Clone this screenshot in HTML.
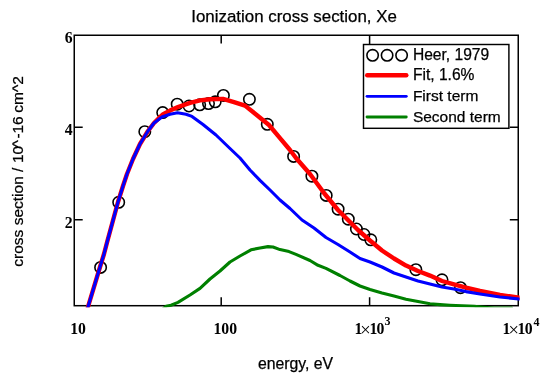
<!DOCTYPE html>
<html><head><meta charset="utf-8"><title>Ionization cross section, Xe</title>
<style>
html,body{margin:0;padding:0;background:#fff;}
svg{display:block}
.a{font-family:"Liberation Sans",Arial,sans-serif;fill:#000;stroke:#000;stroke-width:0.25px}
.t{font-family:"Liberation Serif","Times New Roman",serif;font-weight:bold;fill:#000}
</style></head><body>
<svg width="550" height="380" viewBox="0 0 550 380">
<rect width="550" height="380" fill="#fff"/>
<defs><clipPath id="cp"><rect x="74" y="35" width="445.6" height="272.25"/></clipPath></defs>
<text class="a" x="294.1" y="21.6" font-size="16.9" text-anchor="middle">Ionization cross section, Xe</text>
<text class="a" font-size="15.5" transform="translate(22.5,266.7) rotate(-90)">cross section / <tspan dx="0.3">10</tspan><tspan dx="-1.65">^</tspan><tspan dx="1.55">-</tspan><tspan dx="-0.1">16</tspan><tspan dx="-0.8"> cm^2</tspan></text>
<text class="a" x="295.5" y="369.4" font-size="15.8" text-anchor="middle">energy, eV</text>
<g stroke="#000" stroke-width="1.5" fill="none" stroke-linecap="butt">
<rect x="74.25" y="35.25" width="444.00" height="270.45"/>
<path d="M221.2 305.7V297.2 M369.6 305.7V297.2 M221.2 35.25V43.6 M369.6 35.25V44"/>
<path d="M74.25 127.3H82.7 M74.25 219.85H82.7 M518.25 127.3H509.8 M518.25 219.85H509.8"/>
</g>
<g clip-path="url(#cp)" fill="none" stroke-linejoin="round" stroke-linecap="round">
<g stroke="#000" stroke-width="1.6"><circle cx="100.6" cy="267.4" r="5.7"/><circle cx="118.7" cy="202.3" r="5.7"/><circle cx="144.8" cy="131.7" r="5.7"/><circle cx="162.7" cy="112.6" r="5.7"/><circle cx="177.2" cy="104.2" r="5.7"/><circle cx="189.0" cy="106.0" r="5.7"/><circle cx="199.7" cy="104.8" r="5.7"/><circle cx="208.5" cy="103.6" r="5.7"/><circle cx="215.2" cy="101.8" r="5.7"/><circle cx="223.4" cy="95.4" r="5.7"/><circle cx="249.4" cy="99.3" r="5.7"/><circle cx="267.3" cy="124.3" r="5.7"/><circle cx="293.6" cy="156.4" r="5.7"/><circle cx="311.9" cy="176.2" r="5.7"/><circle cx="326.2" cy="195.4" r="5.7"/><circle cx="338.1" cy="209.2" r="5.7"/><circle cx="348.3" cy="219.2" r="5.7"/><circle cx="356.4" cy="229.0" r="5.7"/><circle cx="364.0" cy="234.5" r="5.7"/><circle cx="370.8" cy="239.8" r="5.7"/><circle cx="415.9" cy="269.7" r="5.7"/><circle cx="442.0" cy="279.8" r="5.7"/><circle cx="460.5" cy="287.7" r="5.7"/></g>
<polyline stroke="#ff0000" stroke-width="4.4" points="86.5,312.0 88.4,305.5 100.0,267.0 104.0,254.0 107.4,241.0 118.0,202.0 123.0,186.0 127.0,174.0 133.0,159.0 140.0,144.0 148.0,131.0 154.0,123.0 160.0,117.2 163.2,114.2 170.0,110.6 178.0,107.0 190.0,102.8 200.0,100.4 210.0,99.3 223.0,98.9 234.0,102.1 245.0,105.6 257.0,115.2 269.0,125.0 280.0,138.2 290.0,150.0 296.0,158.0 310.0,174.0 324.0,193.0 338.0,210.0 346.0,218.0 358.0,230.0 370.0,240.5 382.0,250.5 394.0,258.5 406.0,265.6 418.0,271.0 430.0,275.6 442.0,281.0 454.0,284.4 466.0,287.6 480.0,291.0 500.0,295.0 519.0,297.6"/>
<polyline stroke="#0000ff" stroke-width="3.1" points="86.5,312.0 88.4,305.5 100.0,267.0 104.0,254.0 107.4,241.0 118.0,202.0 123.0,186.0 127.0,174.0 133.0,159.0 140.0,144.0 148.0,131.0 154.0,123.0 162.0,117.0 170.0,114.2 177.5,112.7 186.0,114.2 192.0,116.4 203.0,124.5 216.0,135.0 230.0,148.5 240.0,158.0 250.0,170.0 260.0,180.3 270.0,190.0 280.0,200.0 290.0,208.5 302.0,220.0 314.0,228.0 326.0,237.5 338.0,244.5 350.0,252.0 360.0,258.5 370.0,262.0 382.0,267.0 394.0,273.0 406.0,277.0 418.0,281.0 430.0,284.0 442.0,287.0 454.0,289.0 466.0,291.6 480.0,294.0 500.0,297.0 519.0,299.0"/>
<polyline stroke="#008000" stroke-width="3.1" points="163.0,309.0 166.2,306.3 171.0,305.2 178.0,302.4 190.0,295.0 200.0,288.4 210.0,279.0 220.0,271.0 230.0,262.0 240.0,256.0 251.0,249.8 260.0,248.0 268.0,246.6 273.0,247.0 280.0,249.6 289.0,251.6 296.0,254.4 310.0,260.5 318.0,265.3 326.0,268.4 340.0,275.5 350.0,281.0 360.0,286.0 370.0,289.5 382.0,293.0 394.0,296.0 406.0,299.2 418.0,301.5 430.0,303.8 440.0,304.6 450.0,305.2 462.0,305.7 474.0,306.3 484.0,307.2 494.0,308.0 511.5,308.1"/>
</g>
<g class="t" font-size="15.75">
<text x="72.5" y="42.6" text-anchor="end">6</text>
<text x="72.5" y="135" text-anchor="end">4</text>
<text x="72.5" y="227.5" text-anchor="end">2</text>
<text x="70.2" y="334.4">10</text>
<text x="213.4" y="334.4">100</text>
<text y="334.4"><tspan x="354.4">1</tspan><tspan x="360.25" y="336.3" font-weight="normal" font-size="18.5">×</tspan><tspan x="369.4" y="334.4">1</tspan><tspan x="376.5">0</tspan><tspan x="384.6" y="325.4" font-size="12">3</tspan></text>
<text y="334.4"><tspan x="502.6">1</tspan><tspan x="508.45" y="336.3" font-weight="normal" font-size="18.5">×</tspan><tspan x="517.6" y="334.4">1</tspan><tspan x="524.7">0</tspan><tspan x="533.5" y="326.2" font-size="12">4</tspan></text>
</g>
<rect x="363.5" y="44.5" width="145.4" height="83.8" fill="#fff" stroke="#000" stroke-width="1.45"/>
<g fill="none" stroke="#000" stroke-width="1.6"><circle cx="372.6" cy="55.3" r="5.7"/><circle cx="387.1" cy="55.3" r="5.7"/><circle cx="401.6" cy="55.3" r="5.7"/></g>
<g fill="none" stroke-linecap="round">
<path d="M367.2 75.3H406.3" stroke="#ff0000" stroke-width="4.4"/>
<path d="M367 96.3H406.3" stroke="#0000ff" stroke-width="2.8"/>
<path d="M367 117H406.3" stroke="#008000" stroke-width="2.8"/>
</g>
<g class="a" font-size="15.6">
<text x="412.9" y="60">Heer, 1979</text>
<text x="412.9" y="80.4">Fit, 1.6%</text>
<text x="412.9" y="101" font-size="15.5">First term</text>
<text x="412.9" y="121.8" font-size="15.5">Second term</text>
</g>
</svg>
</body></html>
